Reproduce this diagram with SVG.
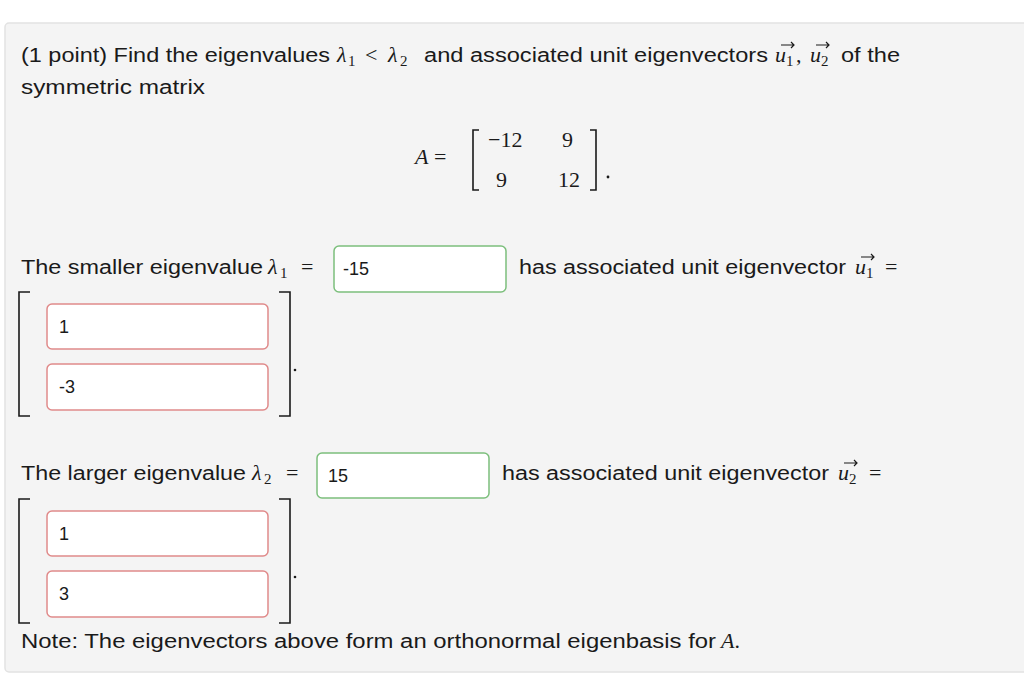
<svg xmlns="http://www.w3.org/2000/svg" width="1024" height="676" viewBox="0 0 1024 676">
<style>
.t{font-family:"Liberation Sans",Arial,sans-serif;font-size:20px;fill:#1a1a1a}
.m{font-family:"Liberation Serif","Times New Roman",serif;font-size:22px;fill:#1a1a1a}
.i{font-style:italic}
.s{font-family:"Liberation Serif","Times New Roman",serif;font-size:15px;fill:#1a1a1a}
.g{fill:#fff;stroke:#7cbf7c;stroke-width:1.5}
.r{fill:#fff;stroke:#e08a8a;stroke-width:1.5}
.v{font-family:"Liberation Sans",Arial,sans-serif;font-size:18px;fill:#1a1a1a}
.b{fill:none;stroke:#1a1a1a;stroke-width:1.6}
.a{fill:none;stroke:#1a1a1a;stroke-width:1.2}
</style>
<rect width="1024" height="676" fill="#fff"/>
<rect x="5" y="23" width="1030" height="649" rx="4" fill="#f4f4f4" stroke="#e2e2e2" stroke-width="1.5"/>
<g id="line1">
<text x="21" y="62" class="t" textLength="309" lengthAdjust="spacingAndGlyphs">(1 point) Find the eigenvalues</text>
<text x="337" y="62" class="m i">λ</text><text x="348" y="66" class="s">1</text>
<text x="365" y="62" class="m">&lt;</text>
<text x="388" y="62" class="m i">λ</text><text x="400" y="66" class="s">2</text>
<text x="424" y="62" class="t" textLength="344" lengthAdjust="spacingAndGlyphs">and associated unit eigenvectors</text>
<text x="775" y="62" class="m i">u</text><text x="786" y="66" class="s">1</text><path class="a" d="M781 45 H794 M791 42 L794 45 L791 48"/>
<text x="796" y="62" class="m">,</text>
<text x="810" y="62" class="m i">u</text><text x="821" y="66" class="s">2</text><path class="a" d="M816 45 H829 M826 42 L829 45 L826 48"/>
<text x="841" y="62" class="t" textLength="59" lengthAdjust="spacingAndGlyphs">of the</text>
</g>
<text x="21" y="94" class="t" textLength="184" lengthAdjust="spacingAndGlyphs">symmetric matrix</text>
<g id="matrix">
<text x="415" y="164" class="m"><tspan class="i">A</tspan> =</text>
<path class="b" d="M479 130 H473 V190 H479 M590 130 H596 V190 H590"/>
<text x="488" y="147" class="m">−12</text><text x="562" y="147" class="m">9</text>
<text x="496" y="187" class="m">9</text><text x="558" y="187" class="m">12</text>
<circle cx="608" cy="177" r="1.4" fill="#1a1a1a"/>
</g>
<g id="row1">
<text x="21" y="274" class="t" textLength="242" lengthAdjust="spacingAndGlyphs">The smaller eigenvalue</text>
<text x="268" y="274" class="m i">λ</text><text x="280" y="278" class="s">1</text>
<text x="301" y="274" class="m">=</text>
<rect x="334" y="246" width="172" height="46" rx="5" class="g"/>
<text x="343" y="275" class="v">-15</text>
<text x="519" y="274" class="t" textLength="327" lengthAdjust="spacingAndGlyphs">has associated unit eigenvector</text>
<text x="855" y="274" class="m i">u</text><text x="866" y="278" class="s">1</text><path class="a" d="M861 257 H874 M871 254 L874 257 L871 260"/>
<text x="885" y="274" class="m">=</text>
<path class="b" d="M30 292 H19 V416 H30 M279 292 H290 V416 H279"/>
<rect x="47" y="304" width="221" height="45" rx="5" class="r"/><text x="59" y="333" class="v">1</text>
<rect x="47" y="364" width="221" height="46" rx="5" class="r"/><text x="59" y="393" class="v">-3</text>
<circle cx="295" cy="370" r="1.3" fill="#1a1a1a"/>
</g>
<g id="row2">
<text x="21" y="480" class="t" textLength="225" lengthAdjust="spacingAndGlyphs">The larger eigenvalue</text>
<text x="252" y="480" class="m i">λ</text><text x="264" y="484" class="s">2</text>
<text x="286" y="480" class="m">=</text>
<rect x="317" y="453" width="172" height="45" rx="5" class="g"/>
<text x="328" y="482" class="v">15</text>
<text x="502" y="480" class="t" textLength="327" lengthAdjust="spacingAndGlyphs">has associated unit eigenvector</text>
<text x="838" y="480" class="m i">u</text><text x="849" y="484" class="s">2</text><path class="a" d="M844 463 H857 M854 460 L857 463 L854 466"/>
<text x="869" y="480" class="m">=</text>
<path class="b" d="M30 499 H19 V623 H30 M279 499 H290 V623 H279"/>
<rect x="47" y="511" width="221" height="45" rx="5" class="r"/><text x="59" y="540" class="v">1</text>
<rect x="47" y="571" width="221" height="46" rx="5" class="r"/><text x="59" y="600" class="v">3</text>
<circle cx="295" cy="577" r="1.3" fill="#1a1a1a"/>
</g>
<text x="21" y="648" class="t" textLength="695" lengthAdjust="spacingAndGlyphs">Note: The eigenvectors above form an orthonormal eigenbasis for</text>
<text x="721" y="648" class="m"><tspan class="i">A</tspan>.</text>
</svg>
